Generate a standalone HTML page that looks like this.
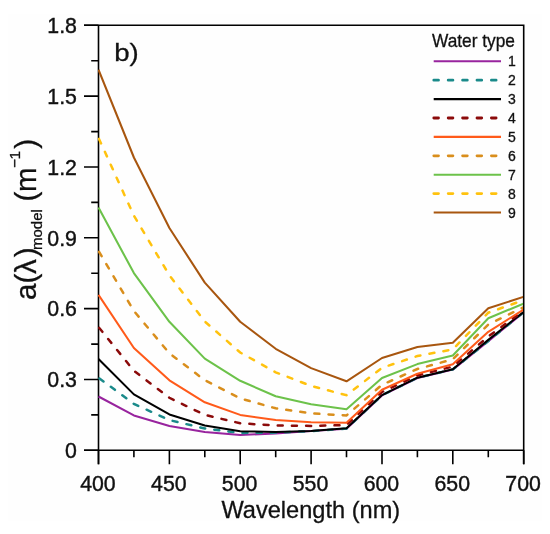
<!DOCTYPE html>
<html><head><meta charset="utf-8"><title>Absorption model by water type</title>
<style>
html,body{margin:0;padding:0;background:#ffffff;}
svg{display:block;}
text{font-family:"Liberation Sans",Arial,sans-serif;fill:#111;stroke:#111;stroke-width:0.3px;}
#ticklabels text{stroke-width:0.4px;}
</style></head>
<body>
<svg width="550" height="534" viewBox="0 0 550 534">
<rect x="0" y="0" width="550" height="534" fill="#ffffff"/>
<rect x="8" y="14" width="534" height="507" fill="#fefefe"/>
<defs><clipPath id="plotclip"><rect x="97.9" y="20" width="425.0" height="436"/></clipPath></defs>
<g id="axes">
<path d="M84.0,25.3H523.7V464.3" fill="none" stroke="#000" stroke-width="1.6"/>
<path d="M98.5,25.3V464.3M84.0,450.3H523.7" fill="none" stroke="#000" stroke-width="1.6"/>
<path d="M84.0,450.3H98.5M91.2,414.9H98.5M84.0,379.5H98.5M91.2,344.1H98.5M84.0,308.6H98.5M91.2,273.2H98.5M84.0,237.8H98.5M91.2,202.4H98.5M84.0,167.0H98.5M91.2,131.6H98.5M84.0,96.1H98.5M91.2,60.7H98.5M84.0,25.3H98.5M98.5,450.3V464.3M133.9,450.3V457.3M169.4,450.3V464.3M204.8,450.3V457.3M240.2,450.3V464.3M275.7,450.3V457.3M311.1,450.3V464.3M346.5,450.3V457.3M382.0,450.3V464.3M417.4,450.3V457.3M452.8,450.3V464.3M488.3,450.3V457.3M523.7,450.3V464.3" fill="none" stroke="#000" stroke-width="1.6"/>
</g>
<g id="curves" clip-path="url(#plotclip)">
<polyline points="98.5,396.5 133.9,415.4 169.4,425.9 204.8,431.9 240.2,434.9 275.7,433.6 311.1,431.1 346.5,428.8 382.0,395.4 417.4,378.0 452.8,369.6 488.3,341.2 523.7,312.3" fill="none" stroke="#98249E" stroke-width="2.05" stroke-linejoin="round"/>
<polyline points="98.5,377.7 133.9,403.9 169.4,420.1 204.8,428.5 240.2,432.9 275.7,432.6 311.1,431.1 346.5,428.6 382.0,395.2 417.4,377.8 452.8,369.4 488.3,341.0 523.7,312.1" fill="none" stroke="#1A8A8A" stroke-width="2.5" stroke-linecap="round" stroke-dasharray="5.0 9.2" stroke-dashoffset="-1.2"/>
<polyline points="98.5,359.0 133.9,394.4 169.4,414.4 204.8,425.4 240.2,431.3 275.7,431.9 311.1,431.1 346.5,428.3 382.0,395.1 417.4,377.7 452.8,369.3 488.3,339.9 523.7,311.9" fill="none" stroke="#000000" stroke-width="2.05" stroke-linejoin="round"/>
<polyline points="98.5,327.0 133.9,370.8 169.4,397.8 204.8,414.9 240.2,423.3 275.7,425.4 311.1,425.9 346.5,425.1 382.0,392.0 417.4,375.5 452.8,366.6 488.3,336.5 523.7,310.7" fill="none" stroke="#8B0A0A" stroke-width="2.5" stroke-linecap="round" stroke-dasharray="5.0 9.2" stroke-dashoffset="-1.2"/>
<polyline points="98.5,294.8 133.9,348.0 169.4,380.3 204.8,402.3 240.2,414.9 275.7,420.1 311.1,422.2 346.5,422.7 382.0,389.7 417.4,373.7 452.8,364.2 488.3,331.8 523.7,309.5" fill="none" stroke="#FF5A1A" stroke-width="2.05" stroke-linejoin="round"/>
<polyline points="98.5,250.8 133.9,311.0 169.4,353.3 204.8,380.2 240.2,398.4 275.7,408.3 311.1,413.4 346.5,415.4 382.0,384.8 417.4,369.0 452.8,359.3 488.3,324.5 523.7,307.2" fill="none" stroke="#D98E1C" stroke-width="2.5" stroke-linecap="round" stroke-dasharray="5.0 9.2" stroke-dashoffset="-1.2"/>
<polyline points="98.5,207.5 133.9,273.1 169.4,321.8 204.8,358.6 240.2,380.8 275.7,396.2 311.1,404.3 346.5,409.3 382.0,378.0 417.4,364.1 452.8,355.5 488.3,318.3 523.7,303.5" fill="none" stroke="#6CC24A" stroke-width="2.05" stroke-linejoin="round"/>
<polyline points="98.5,137.8 133.9,215.7 169.4,275.3 204.8,321.5 240.2,352.5 275.7,372.3 311.1,385.9 346.5,395.2 382.0,367.8 417.4,356.0 452.8,349.4 488.3,312.7 523.7,300.1" fill="none" stroke="#FFC20E" stroke-width="2.5" stroke-linecap="round" stroke-dasharray="5.0 9.2" stroke-dashoffset="-1.2"/>
<polyline points="98.5,69.7 133.9,157.5 169.4,228.0 204.8,282.6 240.2,321.8 275.7,348.8 311.1,368.1 346.5,381.3 382.0,358.0 417.4,347.0 452.8,342.8 488.3,308.2 523.7,296.8" fill="none" stroke="#A8560F" stroke-width="2.05" stroke-linejoin="round"/>
</g>
<g id="ticklabels">
<text transform="translate(76.9,458.1) scale(1,1.05)" text-anchor="end" font-size="21.3">0</text>
<text transform="translate(76.9,387.3) scale(1,1.05)" text-anchor="end" font-size="21.3">0.3</text>
<text transform="translate(76.9,316.4) scale(1,1.05)" text-anchor="end" font-size="21.3">0.6</text>
<text transform="translate(76.9,245.6) scale(1,1.05)" text-anchor="end" font-size="21.3">0.9</text>
<text transform="translate(76.9,174.8) scale(1,1.05)" text-anchor="end" font-size="21.3">1.2</text>
<text transform="translate(76.9,103.9) scale(1,1.05)" text-anchor="end" font-size="21.3">1.5</text>
<text transform="translate(76.9,33.1) scale(1,1.05)" text-anchor="end" font-size="21.3">1.8</text>
<text transform="translate(97.9,491.3) scale(1,1.05)" text-anchor="middle" font-size="21.3">400</text>
<text transform="translate(168.8,491.3) scale(1,1.05)" text-anchor="middle" font-size="21.3">450</text>
<text transform="translate(239.6,491.3) scale(1,1.05)" text-anchor="middle" font-size="21.3">500</text>
<text transform="translate(310.5,491.3) scale(1,1.05)" text-anchor="middle" font-size="21.3">550</text>
<text transform="translate(381.4,491.3) scale(1,1.05)" text-anchor="middle" font-size="21.3">600</text>
<text transform="translate(452.2,491.3) scale(1,1.05)" text-anchor="middle" font-size="21.3">650</text>
<text transform="translate(523.1,491.3) scale(1,1.05)" text-anchor="middle" font-size="21.3">700</text>
</g>
<text transform="translate(114.2,61.4) scale(1,0.885)" font-size="27.6">b)</text>
<text transform="translate(310.8,517.7) scale(1,1.04)" text-anchor="middle" font-size="23.6">Wavelength (nm)</text>
<g transform="translate(36,300.9) rotate(-90)">
<text font-size="29.5"><tspan x="0.8 17.5 26.9 43.6" y="0">a(λ)</tspan><tspan font-size="15" x="50.9 63.4 71.7 80.1 88.4" y="5.5">model</tspan><tspan x="92 99.3 108.8" y="0"> (m</tspan><tspan font-size="15.5" x="132.9 141.4" y="-16.3">−1</tspan><tspan x="152.2" y="0">)</tspan></text>
</g>
<g id="legend">
<text transform="translate(432,46.7) scale(1,1.05)" font-size="17.3">Water type</text>
<line x1="433.7" x2="501" y1="61.3" y2="61.3" stroke="#98249E" stroke-width="2.1"/>
<text x="512" y="66.3" text-anchor="middle" font-size="14">1</text>
<line x1="432.5" x2="501" y1="80.2" y2="80.2" stroke="#1A8A8A" stroke-width="2.8" stroke-linecap="round" stroke-dasharray="4.7 9.7" stroke-dashoffset="-1.3"/>
<text x="512" y="85.2" text-anchor="middle" font-size="14">2</text>
<line x1="433.7" x2="501" y1="99.1" y2="99.1" stroke="#000000" stroke-width="2.1"/>
<text x="512" y="104.1" text-anchor="middle" font-size="14">3</text>
<line x1="432.5" x2="501" y1="118.0" y2="118.0" stroke="#8B0A0A" stroke-width="2.8" stroke-linecap="round" stroke-dasharray="4.7 9.7" stroke-dashoffset="-1.3"/>
<text x="512" y="123.0" text-anchor="middle" font-size="14">4</text>
<line x1="433.7" x2="501" y1="136.9" y2="136.9" stroke="#FF5A1A" stroke-width="2.1"/>
<text x="512" y="141.9" text-anchor="middle" font-size="14">5</text>
<line x1="432.5" x2="501" y1="155.8" y2="155.8" stroke="#D98E1C" stroke-width="2.8" stroke-linecap="round" stroke-dasharray="4.7 9.7" stroke-dashoffset="-1.3"/>
<text x="512" y="160.8" text-anchor="middle" font-size="14">6</text>
<line x1="433.7" x2="501" y1="174.7" y2="174.7" stroke="#6CC24A" stroke-width="2.1"/>
<text x="512" y="179.7" text-anchor="middle" font-size="14">7</text>
<line x1="432.5" x2="501" y1="193.6" y2="193.6" stroke="#FFC20E" stroke-width="2.8" stroke-linecap="round" stroke-dasharray="4.7 9.7" stroke-dashoffset="-1.3"/>
<text x="512" y="198.6" text-anchor="middle" font-size="14">8</text>
<line x1="433.7" x2="501" y1="212.5" y2="212.5" stroke="#A8560F" stroke-width="2.1"/>
<text x="512" y="217.5" text-anchor="middle" font-size="14">9</text>
</g>
</svg>
</body></html>
